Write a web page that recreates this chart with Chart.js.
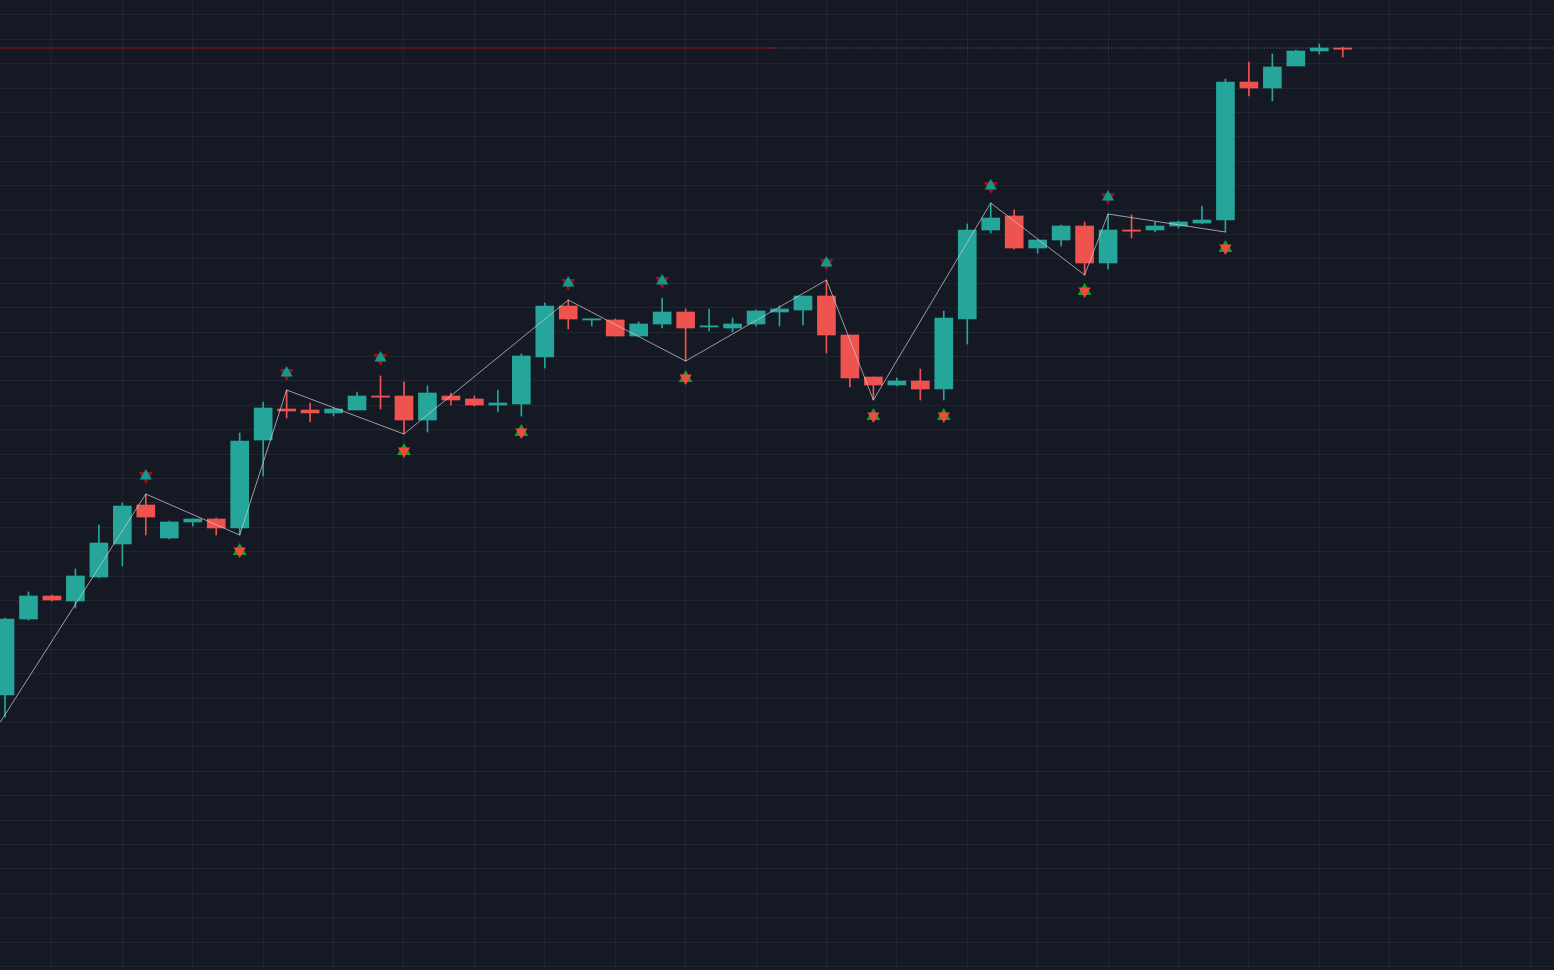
<!DOCTYPE html>
<html><head><meta charset="utf-8">
<script src="https://cdn.jsdelivr.net/npm/chart.js@4.4.1/dist/chart.umd.min.js"></script>
<style>html,body{margin:0;padding:0;background:#151924;overflow:hidden}#w{width:1554px;height:970px}</style>
</head><body><div id="w"><canvas id="c"></canvas></div>
<script>
const opens  = [305,381,404,399,423,456,495,462,478,481,472,560,591,590,587,590,604,604,580,604,601,595,596,643,694,680,680,664,676,688,673,672,676,688,690,704,665,623,615,619,611,681,770,784,752,760,774,737,770,770,774,777,780,918,912,934,949,952];
const highs  = [382,408,405,431,475,497,506,479,481,482,567,598,610,597,592,608,624,618,614,607,604,610,646,697,700,681,681,678,702,691,691,682,690,694,704,720,665,623,622,631,689,776,797,790,760,775,778,786,785,778,779,794,921,938,946,950,956,953];
const lows   = [283,380,399,392,422,434,465,461,474,465,465,524,582,578,584,590,591,566,568,595,594,588,584,632,671,674,664,664,672,639,669,668,674,674,675,647,613,600,614,600,600,656,767,751,747,754,725,731,762,768,772,776,768,904,899,934,946,943];
const closes = [381,404,400,424,457,494,483,478,481,472,559,592,589,587,591,604,603,580,607,600,595,597,644,694,681,681,664,676,688,672,674,676,689,691,704,665,622,615,619,611,682,770,782,752,760,774,737,770,769,774,778,780,918,912,933,949,952,951];
const zigzagIdx = [-0.2,6,10,12,17,24,29,35,37,42,46,47,52];
const zigzagVal = [278,506,465,610,566,700,639,720,600,797,725,786,768];
const pivotHighIdx = [6,12,16,24,28,35,42,47];
const pivotHighVal = [524,627,642,717,719,737,814,803];
const pivotLowIdx = [10,17,22,29,37,40,46,52];
const pivotLowVal = [449,549,568,622,584,584,709,752];
const lastPrice = 952;

const UP='#26a69a', DN='#ef5350';
const col = opens.map((o,i)=>closes[i]>=o?UP:DN);
const bodies = opens.map((o,i)=>{let c=closes[i]; if(Math.abs(c-o)<1.2){c=o+(c>=o?1.2:-1.2);} return {x:i,y:[o,c]};});
const wicks = opens.map((o,i)=>({x:i,y:[lows[i],highs[i]]}));
const zz = zigzagIdx.map((x,i)=>({x,y:zigzagVal[i]}));
const ph = pivotHighIdx.map((x,i)=>({x,y:pivotHighVal[i]}));
const pl = pivotLowIdx.map((x,i)=>({x,y:pivotLowVal[i]}));

const xTicks=[]; for(let v=2; v<=66; v+=3) xTicks.push(v);
const yTicks=[]; for(let v=985; v>30; v-=24.4) yTicks.push(v);

new Chart(document.getElementById('c'),{
  data:{datasets:[
    {type:'line',data:[{x:-0.3,y:lastPrice},{x:32.8,y:lastPrice}],borderColor:'rgba(239,60,60,0.75)',borderWidth:1,borderDash:[1,1],pointRadius:0,order:9},
    {type:'line',data:[{x:32.8,y:lastPrice},{x:66.5,y:lastPrice}],borderColor:'rgba(160,165,180,0.6)',borderWidth:1,borderDash:[1,2],pointRadius:0,order:9},
    {type:'bar',data:wicks,backgroundColor:col,barThickness:1,grouped:false,order:5},
    {type:'bar',data:bodies,backgroundColor:col,barThickness:18,grouped:false,order:4},
    {type:'line',data:zz,borderColor:'rgba(200,200,205,0.75)',borderWidth:1,pointRadius:0,order:3},
    {type:'scatter',data:ph,pointStyle:'triangle',rotation:180,pointRadius:8,backgroundColor:'#9b1010',borderWidth:0,order:2},
    {type:'scatter',data:ph,pointStyle:'triangle',pointRadius:7,backgroundColor:'#0f9a90',borderWidth:0,order:1},
    {type:'scatter',data:pl,pointStyle:'triangle',pointRadius:8,backgroundColor:'#0aa51a',borderWidth:0,order:2},
    {type:'scatter',data:pl,pointStyle:'triangle',rotation:180,pointRadius:7,backgroundColor:'#f4473f',borderWidth:0,order:1}
  ]},
  options:{
    responsive:true,maintainAspectRatio:false,animation:false,
    layout:{padding:0,autoPadding:false},
    plugins:{legend:{display:false},tooltip:{enabled:false}},
    scales:{
      x:{type:'linear',offset:false,min:-0.213,max:66.0,afterBuildTicks:s=>{s.ticks=xTicks.map(v=>({value:v}));},
         ticks:{display:false,padding:0},grid:{offset:false,color:'rgba(255,255,255,0.055)',drawTicks:false,tickLength:0},border:{display:false}},
      y:{type:'linear',min:30,max:1000,afterBuildTicks:s=>{s.ticks=yTicks.map(v=>({value:v}));},
         ticks:{display:false,padding:0},grid:{color:'rgba(255,255,255,0.055)',drawTicks:false,tickLength:0},border:{display:false}}
    }
  }
});
</script></body></html>
